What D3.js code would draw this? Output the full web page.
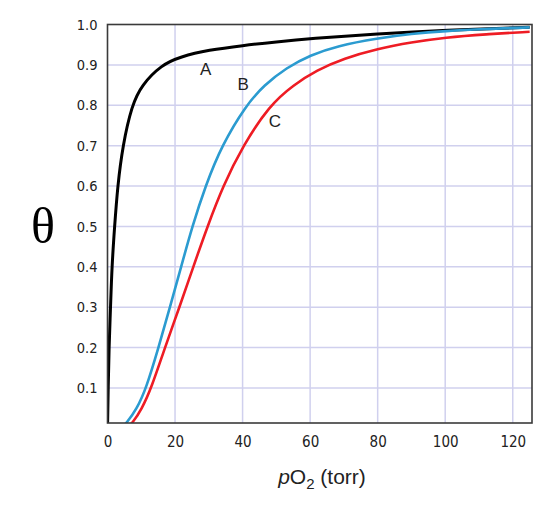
<!DOCTYPE html>
<html lang="en">
<head>
    <meta charset="UTF-8">
    <title>Oxygen binding curves</title>
    <script src="https://d3js.org/d3.v7.min.js"></script>
    <style>
        body {
            margin: 0;
            background: #fff;
        }
        svg {
            display: block;
        }
        .tick text {
            font-family: "Liberation Sans Narrow", "DejaVu Sans Condensed", sans-serif;
            fill: #222;
        }
    </style>
</head>
<body>
<svg width="551" height="515"></svg>

<script>
    // curve data: [pO2 (torr), theta]
    const curveA = [[0,0],[0.2,0.1],[0.45,0.2],[0.9,0.3],[1.3,0.4],[2.1,0.5],[3.0,0.6],[4.5,0.7],
        [7.2,0.8],[10.1,0.85],[16,0.9],[21.5,0.92],[30,0.937],[40,0.948],[50,0.957],[60,0.965],
        [80,0.977],[100,0.986],[125,0.993]];
    const curveB = [[4,0],[5.6,0.013],[8.6,0.047],[11.5,0.1],[15.1,0.2],[18.5,0.3],[21.8,0.4],
        [25.1,0.5],[29,0.6],[33.8,0.7],[41,0.8],[46.4,0.85],[53,0.893],[60,0.924],[68,0.947],
        [80,0.966],[90,0.977],[100,0.984],[112,0.989],[125,0.993]];
    const curveC = [[5.5,0],[7.4,0.013],[10.1,0.047],[13,0.1],[17,0.2],[21.3,0.3],[25.4,0.4],
        [29.6,0.5],[34.2,0.6],[40.1,0.7],[48,0.8],[55,0.85],[62,0.887],[70,0.916],[80,0.94],
        [90,0.956],[100,0.968],[112,0.976],[125,0.982]];

    const curveNames = ["A", "B", "C"];
    const curveColors = ["#000000", "#2b9bd0", "#ee1c24"];
    // where each curve's letter sits, in data units
    const labelSpots = [[29.1,0.875], [40.2,0.838], [49.6,0.745]];

    const xTicks = [0, 20, 40, 60, 80, 100, 120];
    const yTicks = [0.1, 0.2, 0.3, 0.4, 0.5, 0.6, 0.7, 0.8, 0.9, 1.0];

    let svg = d3.select("svg");
    const pLeft = 107.5, pRight = 532, pTop = 24.5, pBottom = 423;

    const x = d3.scaleLinear().domain([0, 125.7]).range([pLeft, pRight]);
    const y = d3.scaleLinear().domain([0.0133, 1.0]).range([pBottom, pTop]);

    // grid
    let grid = svg.append("g").attr("stroke", "#d0d0ee").attr("stroke-width", 1.5);
    grid.selectAll(".vg").data(xTicks.filter(d => d > 0)).enter()
        .append("line")
        .attr("x1", d => x(d)).attr("x2", d => x(d))
        .attr("y1", pTop).attr("y2", pBottom);
    grid.selectAll(".hg").data(yTicks.filter(d => d < 1)).enter()
        .append("line")
        .attr("x1", pLeft).attr("x2", pRight)
        .attr("y1", d => y(d)).attr("y2", d => y(d));

    // clip so the curves stay inside the frame
    svg.append("clipPath").attr("id", "plot")
        .append("rect")
        .attr("x", pLeft).attr("y", pTop)
        .attr("width", pRight - pLeft).attr("height", pBottom - pTop);

    const line = d3.line()
        .x(d => x(d[0]))
        .y(d => y(d[1]))
        .curve(d3.curveBasis);

    const curves = [curveA, curveB, curveC];
    svg.append("g").attr("clip-path", "url(#plot)")
        .selectAll("path")
        .data(curves)
        .enter()
        .append("path")
        .attr("d", d => line(d))
        .attr("fill", "none")
        .attr("stroke", (d, i) => curveColors[i])
        .attr("stroke-width", (d, i) => i === 0 ? 3 : 2.6)
        .attr("stroke-linejoin", "round");

    // frame
    svg.append("rect")
        .attr("x", pLeft).attr("y", pTop)
        .attr("width", pRight - pLeft).attr("height", pBottom - pTop)
        .attr("fill", "none")
        .attr("stroke", "#3a3a3a")
        .attr("stroke-width", 1.6);

    // axes (labels only)
    let xAxis = svg.append("g")
        .attr("transform", `translate(0,${pBottom})`)
        .call(d3.axisBottom(x).tickValues(xTicks).tickSize(0).tickPadding(13));
    xAxis.select(".domain").remove();
    xAxis.selectAll("text").attr("font-size", 15);

    let yAxis = svg.append("g")
        .attr("transform", `translate(${pLeft},0)`)
        .call(d3.axisLeft(y).tickValues(yTicks).tickSize(0).tickPadding(10)
            .tickFormat(d3.format(".1f")));
    yAxis.select(".domain").remove();
    yAxis.selectAll("text").attr("font-size", 14.5);

    // curve letters
    svg.selectAll(".lbl")
        .data(labelSpots)
        .enter()
        .append("text")
        .attr("x", d => x(d[0]))
        .attr("y", d => y(d[1]))
        .attr("text-anchor", "middle")
        .attr("font-family", "Liberation Sans, Arial, sans-serif")
        .attr("font-size", 17)
        .attr("fill", "#222")
        .text((d, i) => curveNames[i]);

    // axis titles
    let xt = svg.append("text")
        .attr("x", 322).attr("y", 484)
        .attr("text-anchor", "middle")
        .attr("font-family", "Liberation Sans, Arial, sans-serif")
        .attr("font-size", 21)
        .attr("fill", "#222");
    xt.append("tspan").attr("font-style", "italic").text("p");
    xt.append("tspan").text("O");
    xt.append("tspan").attr("font-size", 15).attr("dy", 5).text("2");
    xt.append("tspan").attr("dy", -5).text(" (torr)");

    svg.append("text")
        .attr("x", 43).attr("y", 243)
        .attr("text-anchor", "middle")
        .attr("font-family", "Liberation Serif, Times New Roman, serif")
        .attr("font-size", 50)
        .attr("fill", "#000")
        .text("θ");
</script>
</body>
</html>
